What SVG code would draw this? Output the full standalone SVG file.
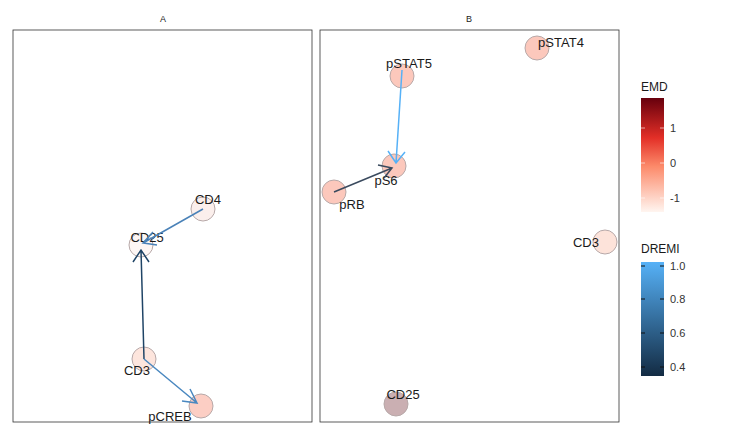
<svg xmlns="http://www.w3.org/2000/svg" width="730" height="434" viewBox="0 0 730 434">
<style>
text{font-family:"Liberation Sans",Arial,sans-serif;fill:#1a1a1a}
.lbl{font-size:13px;text-anchor:middle}
.ttl{font-size:9px;text-anchor:middle}
.tick{font-size:11px;fill:#333}
.panel{fill:none;stroke:#333;stroke-width:0.8}
.n{stroke:#b0a0a0;stroke-width:1;opacity:0.9}
.e{fill:none;stroke-width:1.5}
</style>
<defs>
<linearGradient id="emd" x1="0" y1="0" x2="0" y2="1"><stop offset="0" stop-color="#67000d"/><stop offset="0.35" stop-color="#e32f27"/><stop offset="0.6" stop-color="#fc8a6a"/><stop offset="1" stop-color="#fff5f0"/></linearGradient>
<linearGradient id="dre" x1="0" y1="0" x2="0" y2="1"><stop offset="0" stop-color="#56b1f7"/><stop offset="1" stop-color="#132b43"/></linearGradient>
</defs>
<rect width="730" height="434" fill="#fff"/>
<text class="ttl" x="163" y="22">A</text>
<text class="ttl" x="469" y="22">B</text>
<rect class="panel" x="13" y="30" width="299" height="392"/>
<rect class="panel" x="320" y="30" width="299" height="392"/>
<g id="nodes">
<g id="A-CD4"><circle class="n" cx="203" cy="209" r="12" fill="#fbeeea"/><text class="lbl" x="208" y="204">CD4</text></g>
<g id="A-CD25"><circle class="n" cx="141" cy="245" r="12" fill="#fdf6f3"/><text class="lbl" x="147" y="242">CD25</text></g>
<g id="A-CD3"><circle class="n" cx="144" cy="359" r="12" fill="#fde3da"/><text class="lbl" x="137" y="375">CD3</text></g>
<g id="A-pCREB"><circle class="n" cx="201" cy="406" r="12" fill="#fcc9be"/><text class="lbl" x="170" y="421">pCREB</text></g>
<g id="B-pSTAT5"><circle class="n" cx="402" cy="76" r="12" fill="#fcc3b5"/><text class="lbl" x="409" y="68">pSTAT5</text></g>
<g id="B-pS6"><circle class="n" cx="394" cy="166" r="12" fill="#fcc3b5"/><text class="lbl" x="386" y="185">pS6</text></g>
<g id="B-pRB"><circle class="n" cx="334" cy="192" r="12" fill="#fcc3b5"/><text class="lbl" x="352" y="209">pRB</text></g>
<g id="B-pSTAT4"><circle class="n" cx="537" cy="48" r="12" fill="#fcc3b5"/><text class="lbl" x="561" y="47">pSTAT4</text></g>
<g id="B-CD3"><circle class="n" cx="605" cy="242" r="12" fill="#fde0d6"/><text class="lbl" x="586" y="247">CD3</text></g>
<g id="B-CD25"><circle class="n" cx="396" cy="404" r="12" fill="#c5a7aa"/><text class="lbl" x="403" y="399">CD25</text></g>
</g>
<g id="edges">
<path class="e" stroke="#4a82b8" d="M203,209 L143,243 M157,245 L143,243 L153,232"/>
<path class="e" stroke="#1f4466" d="M144,359 L141,250 M133,262 L141,250 L149,262"/>
<path class="e" stroke="#4a88c0" d="M144,359 L197,403 M182,401 L197,403 L190,389"/>
<path class="e" stroke="#56b1f7" d="M402,70 L396,163 M388,151 L396,163 L405,152"/>
<path class="e" stroke="#3a4a5e" d="M334,192 L392,168 M378,165 L392,168 L384,178"/>
</g>
<g id="legend">
<text x="641" y="91" font-size="12">EMD</text>
<rect x="641" y="98" width="23" height="114" fill="url(#emd)"/>
<path d="M641,128h4M660,128h4M641,163h4M660,163h4M641,198h4M660,198h4" stroke="#fff" stroke-opacity="0.6"/>
<text class="tick" x="670" y="132">1</text>
<text class="tick" x="670" y="167">0</text>
<text class="tick" x="670" y="202">-1</text>
<text x="641" y="253" font-size="12">DREMI</text>
<rect x="641" y="262" width="23" height="114" fill="url(#dre)"/>
<path d="M641,266h4M660,266h4M641,299h4M660,299h4M641,333h4M660,333h4M641,367h4M660,367h4" stroke="#111"/>
<text class="tick" x="670" y="270">1.0</text>
<text class="tick" x="670" y="303">0.8</text>
<text class="tick" x="670" y="337">0.6</text>
<text class="tick" x="670" y="371">0.4</text>
</g>
</svg>
